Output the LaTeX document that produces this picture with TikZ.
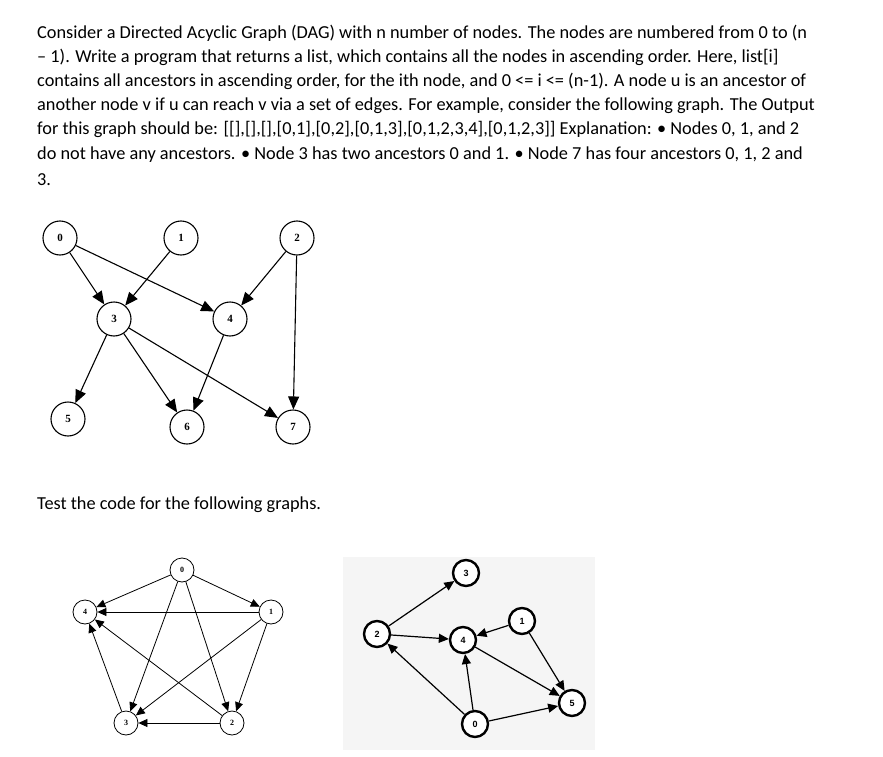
\documentclass[tikz,border=0pt]{standalone}
\usepackage{fontspec}
\setmainfont{Carlito}
\newfontfamily\numfont{Liberation Serif}
\newfontfamily\sansb{Liberation Sans}
\usetikzlibrary{arrows.meta}
\begin{document}
\begin{tikzpicture}[x=1pt,y=-1pt,
  txt/.style={anchor=base west,inner sep=0pt,font=\fontsize{18.3}{20}\selectfont},
  gA/.style={circle,draw,line width=1.1pt,minimum size=34pt,inner sep=0pt,font=\numfont\bfseries\fontsize{11}{11}\selectfont},
  gB/.style={circle,draw,line width=0.8pt,minimum size=24pt,inner sep=0pt,font=\numfont\bfseries\fontsize{8}{8}\selectfont},
  gC/.style={circle,draw,line width=2.4pt,minimum size=26pt,inner sep=0pt,fill=white,font=\sansb\bfseries\fontsize{9}{9}\selectfont},
  eA/.style={-{Triangle[length=13pt,width=11pt]},line width=1.1pt},
  eB/.style={-{Triangle[length=9pt,width=8pt]},line width=0.8pt},
  eC/.style={-{Triangle[length=10pt,width=9pt]},line width=1.2pt}]
\useasboundingbox (0,0) rectangle (883,757);
\fill[white] (0,0) rectangle (883,757);
\node[txt] (l1) at (37,39) {Consider a Directed Acyclic Graph (DAG) with n number of nodes. The nodes are numbered from 0 to (n};
\node[txt] (l2) at (37,63) {– 1). Write a program that returns a list, which contains all the nodes in ascending order. Here, list[i]};
\node[txt] (l3) at (37,87) {contains all ancestors in ascending order, for the ith node, and 0 <= i <= (n-1). A node u is an ancestor of};
\node[txt] (l4) at (37,111) {another node v if u can reach v via a set of edges. For example, consider the following graph. The Output};
\node[txt] (l5) at (37,135) {for this graph should be: [[],[],[],[0,1],[0,2],[0,1,3],[0,1,2,3,4],[0,1,2,3]] Explanation: \textbullet\ Nodes 0, 1, and 2};
\node[txt] (l6) at (37,160) {do not have any ancestors. \textbullet\ Node 3 has two ancestors 0 and 1. \textbullet\ Node 7 has four ancestors 0, 1, 2 and};
\node[txt] (l7) at (37,185) {3.};
\node[txt] (t2) at (37,509) {Test the code for the following graphs.};
% graph 1
\node[gA] (a0) at (60,238) {0};
\node[gA] (a1) at (181,238) {1};
\node[gA] (a2) at (297,238) {2};
\node[gA] (a3) at (114,319) {3};
\node[gA] (a4) at (230,319) {4};
\node[gA] (a5) at (68,419) {5};
\node[gA] (a6) at (187,427) {6};
\node[gA] (a7) at (293,427) {7};
\foreach \u/\v in {a0/a3,a1/a3,a0/a4,a2/a4,a2/a7,a3/a5,a3/a6,a3/a7,a4/a6}
  \draw[eA] (\u) -- (\v);
% graph 2
\node[gB] (b0) at (182,570) {0};
\node[gB] (b4) at (85,612) {4};
\node[gB] (b1) at (271,612) {1};
\node[gB] (b3) at (126,723) {3};
\node[gB] (b2) at (232,723) {2};
\foreach \u/\v in {b0/b4,b0/b1,b0/b3,b0/b2,b1/b4,b1/b3,b1/b2,b2/b4,b2/b3,b3/b4}
  \draw[eB] (\u) -- (\v);
% graph 3
\fill[black!4] (343,557) rectangle (595,750);
\node[gC] (c3) at (466,573) {3};
\node[gC] (c2) at (377,634) {2};
\node[gC] (c1) at (522,621) {1};
\node[gC] (c4) at (463,640) {4};
\node[gC] (c5) at (572,703) {5};
\node[gC] (c0) at (475,724) {0};
\foreach \u/\v in {c2/c3,c2/c4,c1/c4,c1/c5,c4/c5,c0/c2,c0/c4,c0/c5}
  \draw[eC] (\u) -- (\v);
\end{tikzpicture}
\end{document}
